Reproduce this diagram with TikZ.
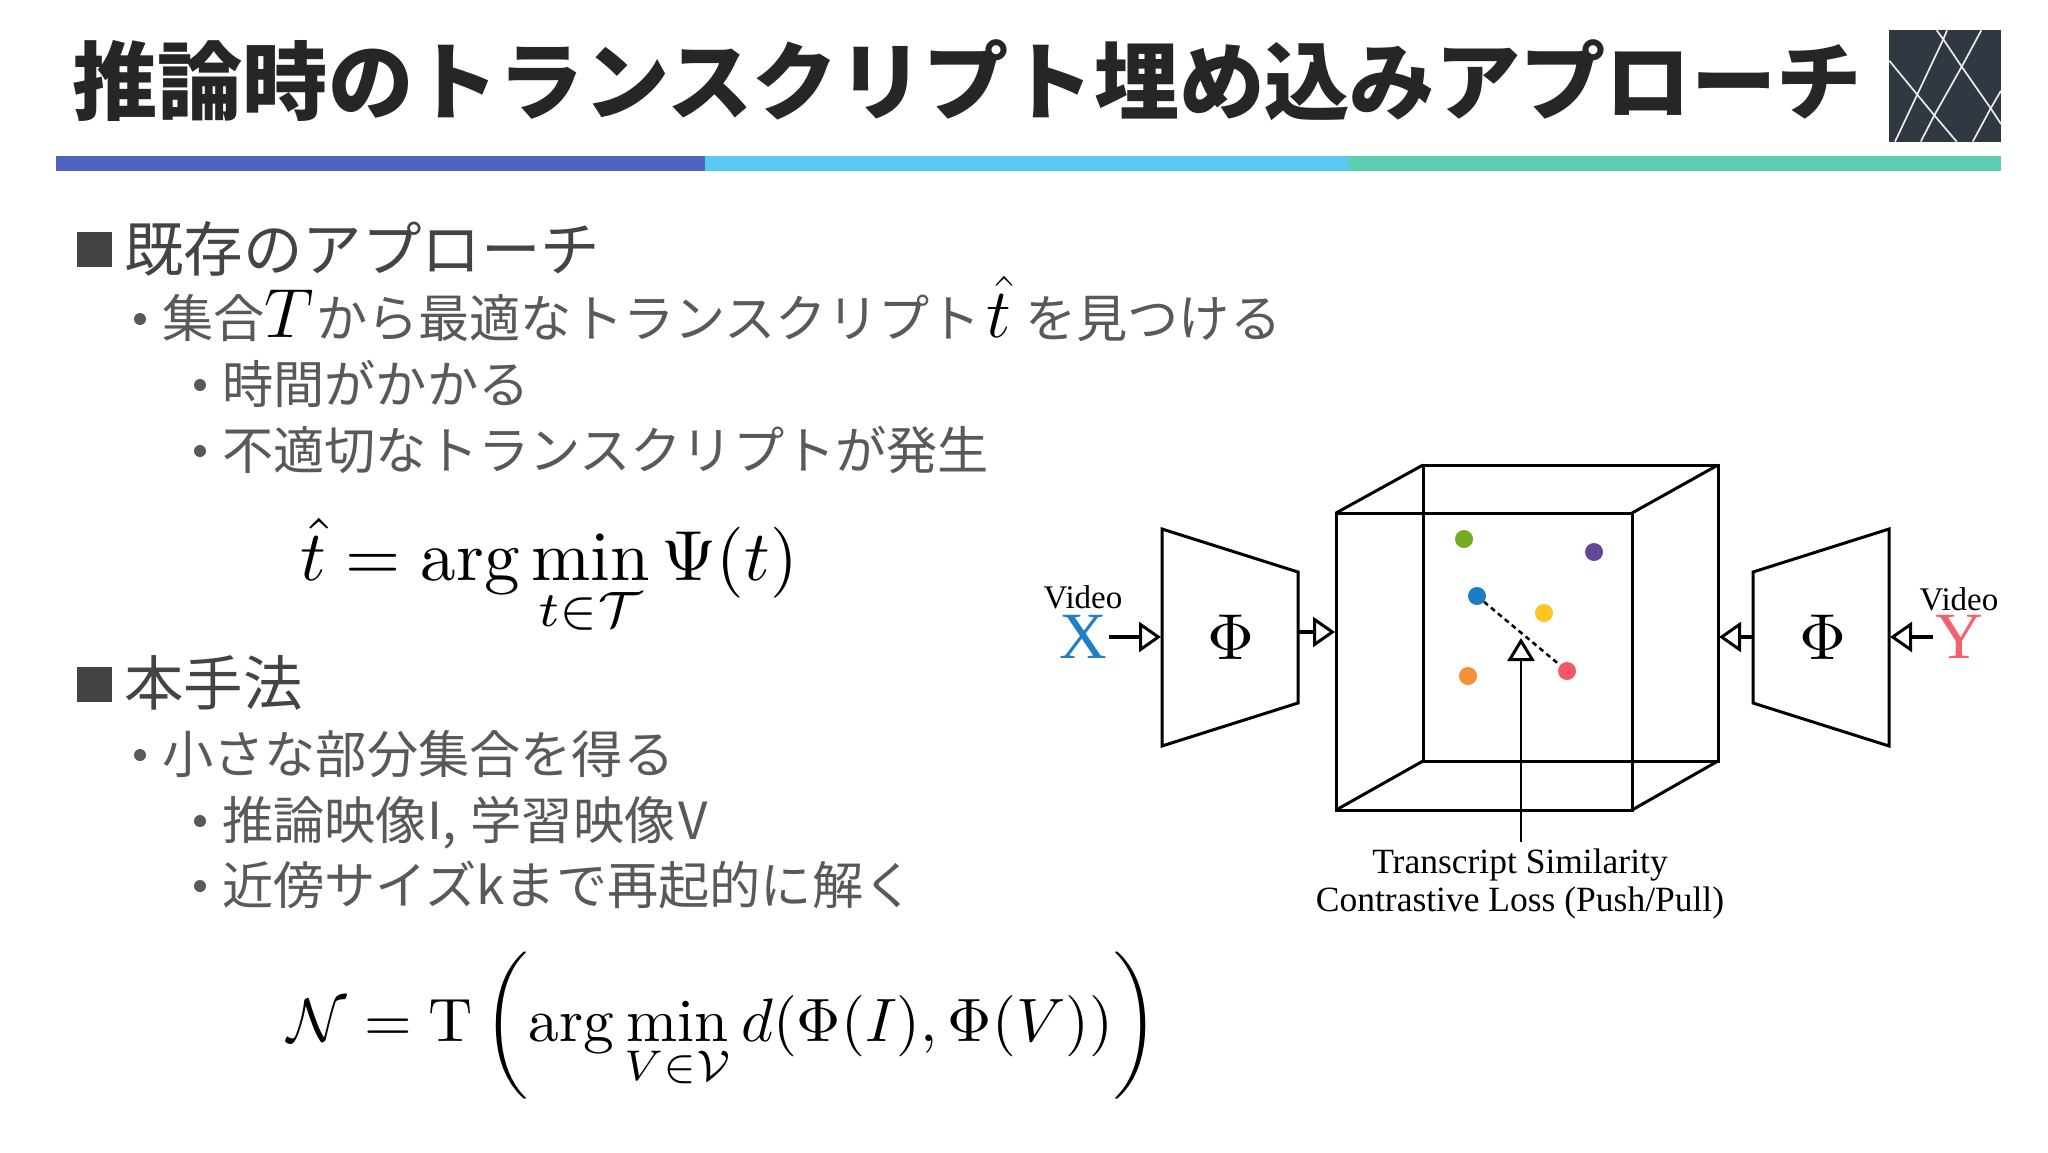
\documentclass[tikz,border=0pt]{standalone}
\usepackage{amsmath, amssymb}
\usepackage{fontspec}
\usepackage{tikz}
\usetikzlibrary{arrows.meta}
\newfontfamily\jpfont{Noto Sans CJK JP}
\newfontfamily\labelfont{Liberation Serif}
\newcommand{\mathsized}[1]{\scalebox{2.8}{\color{black}$#1$}}
\definecolor{titlegray}{HTML}{262626}
\definecolor{headgray}{HTML}{444444}
\definecolor{bodygray}{HTML}{595959}
\definecolor{logoback}{HTML}{303842}
\tikzset{
    headtext/.style={anchor=base west, inner sep=0pt, text=headgray, font=\fontsize{59.5}{66}\selectfont\jpfont},
    bodytext/.style={anchor=base west, inner sep=0pt, text=bodygray, font=\fontsize{51.2}{60}\selectfont\jpfont},
    headmark/.style={fill=headgray, minimum size=35pt, inner sep=0pt},
    bodymark/.style={circle, fill=bodygray, minimum size=12pt, inner sep=0pt},
    wire/.style={line width=3pt},
    openarrow/.style={line width=3.5pt, -{Triangle[open, length=22pt, width=30pt, line width=3pt, fill=white]}},
    dotmark/.style={circle, minimum size=18pt, inner sep=0pt},
    serieslabel/.style={inner sep=0pt, font=\fontsize{33}{40}\selectfont\labelfont},
    losslabel/.style={inner sep=0pt, font=\fontsize{35.5}{42}\selectfont\labelfont},
    logoline/.style={draw=white!92!black, line width=1.7pt}
}
\begin{document}
\begin{tikzpicture}[x=1pt,y=-1pt]
\useasboundingbox[fill=white] (0,0) rectangle (2048,1152);

% Title and colour bar
\node[anchor=base west, inner sep=0pt, text=titlegray, font=\fontsize{85.3}{100}\selectfont\jpfont\bfseries] (title) at (72,113) {推論時のトランスクリプト埋め込みアプローチ};
\fill[fill={rgb,255:red,79;green,99;blue,193}] (56,156) rectangle (705,171);
\fill[fill={rgb,255:red,90;green,200;blue,240}] (705,156) rectangle (1349,171);
\fill[fill={rgb,255:red,92;green,205;blue,176}] (1349,156) rectangle (2001,171);

% Logo
\fill[logoback] (1889,30) rectangle (2001,142);
\draw[logoline] (1889.3,60.7) -- (1917.3,94.7) -- (1934.3,115.3) -- (1956.7,141.7);
\draw[logoline] (1895,141.7) -- (1943.3,39.3) -- (1947,30.3);
\draw[logoline] (1936.7,30.3) -- (1943.3,39.3) -- (1961.7,66.7) -- (1990.7,108.3) -- (2001,124);
\draw[logoline] (1920.7,141.7) -- (1934.3,115.3) -- (1961.7,66.7) -- (1981.3,30.3);
\draw[logoline] (1972.7,141.7) -- (1990.7,108.3) -- (2001,90.7);

% Existing approach
\node[headmark] (markA) at (94,249) {};
\node[headtext] (headA) at (124,271) {既存のアプローチ};
\node[bodymark] (markA1) at (140,319) {};
\node[bodytext] (lineA1) at (162,337) {集合\mathsized{T}\kern2pt から最適なトランスクリプト\kern6pt\mathsized{\hat t}\kern14pt を見つける};
\node[bodymark] (markA2) at (200,385) {};
\node[bodytext] (lineA2) at (222,403) {時間がかかる};
\node[bodymark] (markA3) at (200,451) {};
\node[bodytext] (lineA3) at (222,469) {不適切なトランスクリプトが発生};
\node[scale=7.1] (formulaA) at (549,578) {$\displaystyle \hat t = \arg\min_{t\in\mathcal{T}} \Psi(t)$};

% Proposed approach
\node[headmark] (markB) at (94,684) {};
\node[headtext] (headB) at (124,705) {本手法};
\node[bodymark] (markB1) at (140,755) {};
\node[bodytext] (lineB1) at (162,773) {小さな部分集合を得る};
\node[bodymark] (markB2) at (200,821) {};
\node[bodytext] (lineB2) at (222,839) {推論映像I,\kern3pt{} 学習映像\kern3pt{}V};
\node[bodymark] (markB3) at (200,886) {};
\node[bodytext] (lineB3) at (222,904) {近傍サイズkまで再起的に解く};
\node[scale=6.13] (formulaB) at (723,1026) {$\displaystyle \mathcal{N} = \mathrm{T}\left(\arg\min_{V\in\mathcal{V}} d(\Phi(I),\Phi(V))\right)$};

% Cube
\coordinate (fa) at (1336,513);
\coordinate (fb) at (1632,513);
\coordinate (fc) at (1632,810);
\coordinate (fd) at (1336,810);
\coordinate (ba) at (1423,465);
\coordinate (bb) at (1718,465);
\coordinate (bc) at (1718,761);
\coordinate (bd) at (1423,761);
\draw[wire] (ba) -- (bb) -- (bc) -- (bd) -- cycle;
\draw[wire] (fa) -- (fb) -- (fc) -- (fd) -- cycle;
\foreach \p/\q in {fa/ba,fb/bb,fc/bc,fd/bd} {
    \draw[wire] (\p) -- (\q);
}

% Encoders
\draw[wire] (1162,529) -- (1298,572) -- (1298,703) -- (1162,746) -- cycle;
\draw[wire] (1889,529) -- (1753,572) -- (1753,703) -- (1889,746) -- cycle;
\node[scale=6.5] (phiX) at (1231,637) {$\Phi$};
\node[scale=6.5] (phiY) at (1823,637) {$\Phi$};

% Inputs
\node[serieslabel] (videoX) at (1083,597) {Video};
\node[inner sep=0pt, text={rgb,255:red,30;green,127;blue,194}, font=\fontsize{66}{70}\selectfont\labelfont] (inX) at (1083,637) {X};
\node[serieslabel] (videoY) at (1959,599) {Video};
\node[inner sep=0pt, text={rgb,255:red,244;green,96;blue,108}, font=\fontsize{66}{70}\selectfont\labelfont] (inY) at (1959,637) {Y};

% Arrows
\coordinate (phiXin) at (1161,637);
\coordinate (phiXout) at (1298,632);
\coordinate (cubeXin) at (1335,632);
\coordinate (phiYin) at (1890,637);
\coordinate (phiYout) at (1753,637);
\coordinate (cubeYin) at (1719,637);
\draw[openarrow] (inX.east)++(2,0) -- (phiXin);
\draw[openarrow] (phiXout) -- (cubeXin);
\draw[openarrow] (inY.west)++(-2,0) -- (phiYin);
\draw[openarrow] (phiYout) -- (cubeYin);

% Points
\foreach \name/\xpos/\ypos/\col in {
    dotgreen/1464/539/{rgb,255:red,116;green,170;blue,36},
    dotpurple/1594/552/{rgb,255:red,100;green,72;blue,150},
    dotblue/1477/596/{rgb,255:red,26;green,127;blue,194},
    dotyellow/1544/613/{rgb,255:red,250;green,197;blue,30},
    dotred/1567/671/{rgb,255:red,244;green,88;blue,104},
    dotorange/1468/676/{rgb,255:red,247;green,142;blue,52}} {
    \node[dotmark, fill=\col] (\name) at (\xpos,\ypos) {};
}
\draw[line width=2.5pt, dash pattern=on 5pt off 4pt] (dotblue) -- (dotred);

% Loss
\node[losslabel] (lossA) at (1520,865) {Transcript Similarity};
\node[losslabel] (lossB) at (1520,903) {Contrastive Loss (Push/Pull)};
\coordinate (lossend) at (1521,638);
\draw[line width=2.5pt, -{Triangle[open, length=23pt, width=27pt, line width=3pt, fill=white]}] (lossend |- lossA.north) ++(0,-7) -- (lossend);
\end{tikzpicture}
\end{document}
